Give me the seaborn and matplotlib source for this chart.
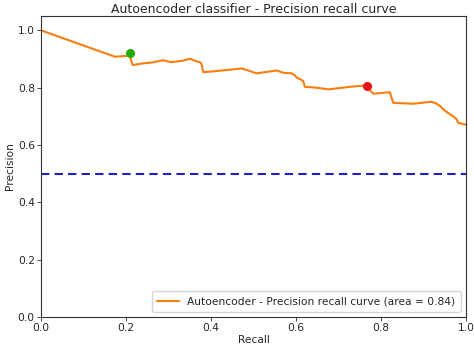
import matplotlib
matplotlib.use("Agg")
import matplotlib.pyplot as plt
import seaborn as sns
import pandas as pd

recall = [0.0, 0.174, 0.209, 0.212, 0.216, 0.241, 0.262, 0.288, 0.304, 0.330, 0.351,
          0.362, 0.375, 0.378, 0.382,
          0.413, 0.472, 0.492, 0.507, 0.555, 0.570, 0.590, 0.598, 0.602, 0.612, 0.617,
          0.621, 0.649, 0.676, 0.727, 0.766, 0.770, 0.774, 0.782, 0.821, 0.825, 0.829,
          0.876, 0.919, 0.931, 0.940, 0.947, 0.958, 0.970, 0.978, 0.982, 1.0]
precision = [1.0, 0.908, 0.912, 0.895, 0.879, 0.885, 0.888, 0.896, 0.889, 0.893, 0.901,
             0.894, 0.888, 0.881, 0.854,
             0.858, 0.867, 0.858, 0.850, 0.860, 0.852, 0.850, 0.842, 0.835, 0.828, 0.823,
             0.803, 0.800, 0.794, 0.803, 0.808, 0.798, 0.791, 0.779, 0.784, 0.765, 0.747,
             0.744, 0.751, 0.744, 0.735, 0.724, 0.712, 0.700, 0.690, 0.677, 0.671]
green_pt = (0.209, 0.921)
red_pt = (0.766, 0.806)
baseline = 0.5
label = "Autoencoder - Precision recall curve (area = 0.84)"

sns.set_style("ticks")
plt.rcParams['font.family'] = ['DejaVu Sans']
fs = 7.7

fig = plt.figure(figsize=(4.74, 3.48), dpi=100)
ax = fig.add_axes([0.0865, 0.089, 0.8965, 0.865])

df = pd.DataFrame({"Recall": recall, "Precision": precision})
sns.lineplot(data=df, x="Recall", y="Precision", sort=False, estimator=None,
             color="#f97d10", linewidth=1.5, ax=ax, label=label)
ax.axhline(baseline, color="#1f1fc0", linestyle="--", linewidth=1.5, dashes=(4, 2.5))
ax.plot([green_pt[0]], [green_pt[1]], "o", color="#22aa00", markersize=5.5)
ax.plot([red_pt[0]], [red_pt[1]], "o", color="#ee1111", markersize=5.5)

ax.set_xlim(0, 1.0)
ax.set_ylim(0, 1.05)
ax.set_xticks([0, 0.2, 0.4, 0.6, 0.8, 1.0])
ax.set_yticks([0, 0.2, 0.4, 0.6, 0.8, 1.0])
ax.tick_params(labelsize=fs, length=3, width=0.6, pad=1.5)
for s in ax.spines.values():
    s.set_linewidth(0.8)
    s.set_color("#333333")
ax.set_xlabel("Recall", fontsize=fs, labelpad=1)
ax.set_ylabel("Precision", fontsize=fs, labelpad=2)
ax.set_title("Autoencoder classifier - Precision recall curve", fontsize=9, pad=2)
ax.legend(loc="lower right", fontsize=fs, frameon=True, handlelength=2.0,
          borderpad=0.5, framealpha=0.8)

fig.savefig("out.png", dpi=100)
